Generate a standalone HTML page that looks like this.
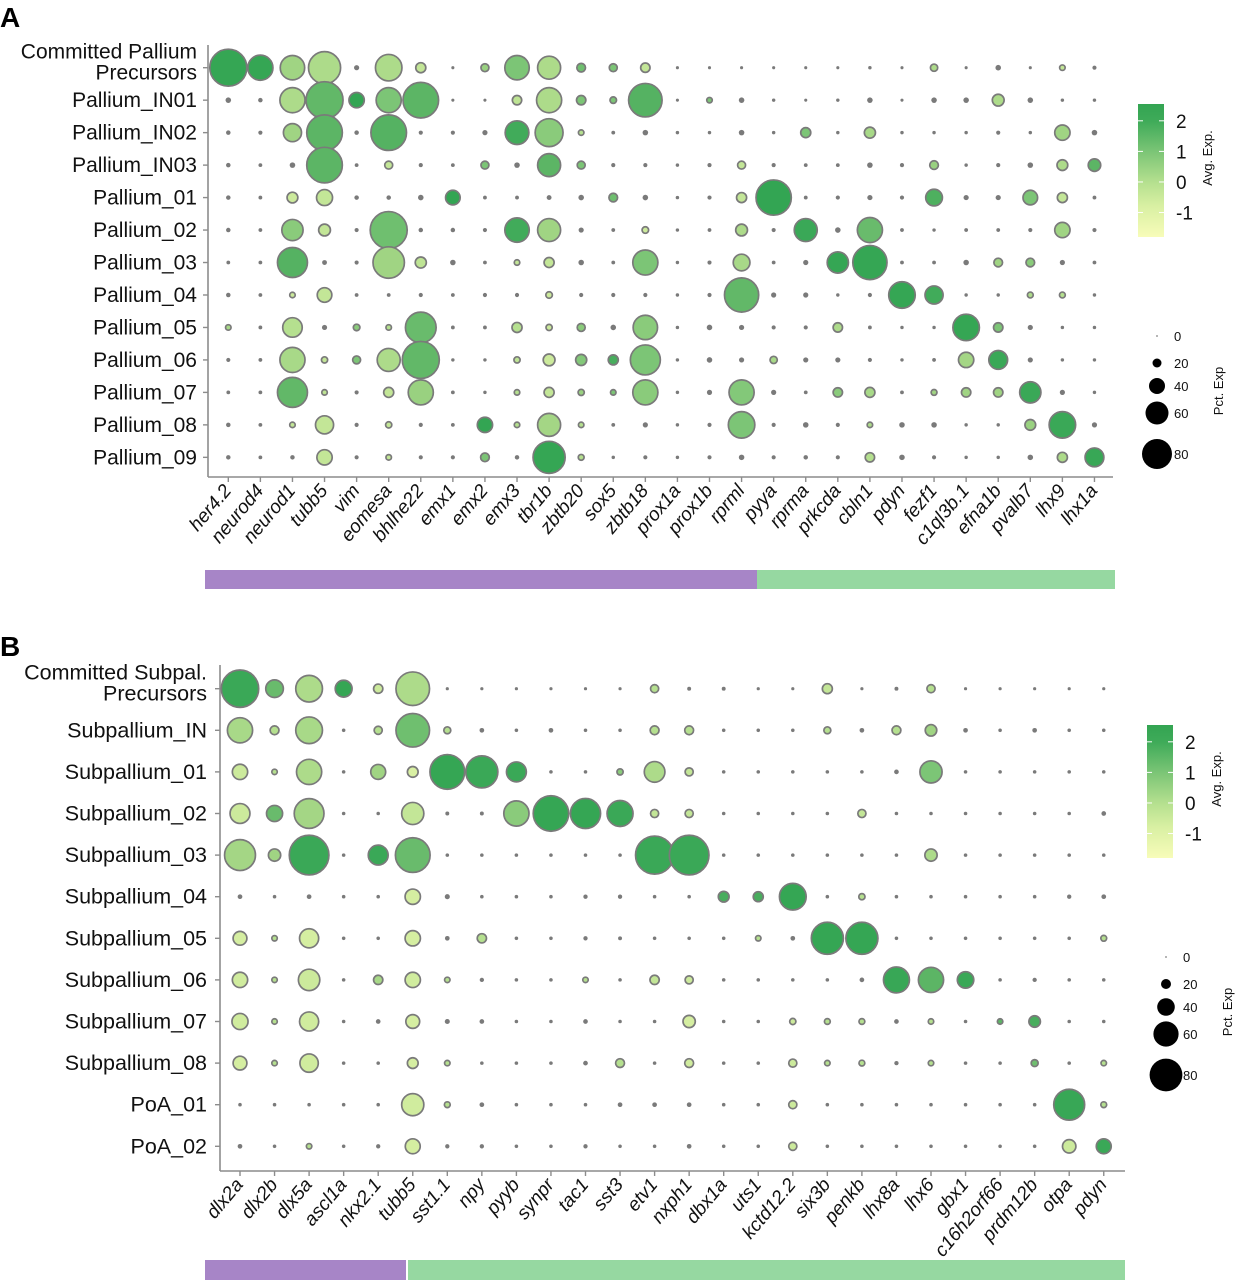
<!DOCTYPE html>
<html><head><meta charset="utf-8">
<style>
html,body{margin:0;padding:0;background:#fff;}
svg{display:block;font-family:"Liberation Sans",Arial,sans-serif;}
</style></head>
<body>
<svg id="fig" width="1236" height="1280" viewBox="0 0 1236 1280" xmlns="http://www.w3.org/2000/svg">
<defs>
<linearGradient id="cbar" x1="0" y1="1" x2="0" y2="0">
<stop offset="0" stop-color="#f7fcb9"/>
<stop offset="0.23" stop-color="#d9f0a3"/>
<stop offset="0.41" stop-color="#b5e08f"/>
<stop offset="0.64" stop-color="#7cc576"/>
<stop offset="0.87" stop-color="#3fab59"/>
<stop offset="1" stop-color="#33a452"/>
</linearGradient>
</defs>
<text x="0" y="27" font-size="28" font-weight="bold">A</text>
<text x="0" y="656" font-size="28" font-weight="bold">B</text>
<g id="gA"></g>
<g id="gB"></g>
</svg>
<script>
const colsA = ["her4.2","neurod4","neurod1","tubb5","vim","eomesa","bhlhe22","emx1","emx2","emx3","tbr1b","zbtb20","sox5","zbtb18","prox1a","prox1b","rprml","pyya","rprma","prkcda","cbln1","pdyn","fezf1","c1ql3b.1","efna1b","pvalb7","lhx9","lhx1a"];
const rowsA = [["Committed Pallium","Precursors"],["Pallium_IN01"],["Pallium_IN02"],["Pallium_IN03"],["Pallium_01"],["Pallium_02"],["Pallium_03"],["Pallium_04"],["Pallium_05"],["Pallium_06"],["Pallium_07"],["Pallium_08"],["Pallium_09"]];
const pctA = [
[100,66,64,86,8,70,23,2,17,64,60,19,17,21,2,2,2,2,2,2,3,2,15,2,9,2,10,5],
[9,6,66,100,38,66,96,2,2,21,66,21,13,90,2,10,9,3,2,3,9,2,9,9,28,9,3,3],
[6,5,46,96,6,96,5,5,8,62,74,10,4,9,3,3,9,3,23,3,26,3,3,3,5,3,38,9],
[6,4,9,96,4,17,5,4,17,9,60,17,5,5,3,5,17,5,4,4,9,5,19,3,5,9,25,30],
[6,4,25,40,6,6,9,36,4,4,7,9,19,9,3,5,23,95,4,5,8,5,42,8,8,36,23,4],
[6,4,55,28,5,100,6,6,5,64,60,8,4,13,3,4,28,5,60,9,66,4,3,4,4,5,38,5],
[4,4,80,7,5,84,26,9,4,10,23,9,4,66,3,5,42,4,8,55,92,4,4,9,19,19,8,4],
[6,4,10,36,4,4,5,4,5,5,13,5,5,5,3,5,92,8,8,3,5,70,46,3,3,11,11,3],
[10,4,50,8,13,10,82,4,4,23,12,17,9,64,3,9,8,5,5,21,4,3,3,70,21,8,3,3],
[5,4,66,12,17,60,100,3,3,12,28,26,23,80,3,9,8,15,8,8,5,3,4,38,48,8,3,3],
[4,4,80,10,5,23,66,4,3,10,23,12,10,66,3,8,66,8,4,21,23,4,11,21,21,55,8,3],
[6,4,10,46,5,12,5,4,38,10,60,10,4,8,3,5,70,5,9,5,10,9,9,3,3,25,70,8],
[6,4,6,38,5,10,5,5,19,6,86,11,3,5,3,5,9,5,6,5,21,9,5,3,3,9,23,48]];
const expA = [
[2.2,2.2,0.5,0.2,0,0.2,-0.3,0,0.6,1.0,0.2,1.2,1.0,-0.3,0,0,0,0,0,0,0,0,0.2,0,0,0,-0.3,0],
[0,0,0.2,1.4,2.3,1.0,1.5,0,0,-0.2,0.2,1.0,1.0,1.6,0,1.0,0,0,0,0,0,0,0,0,0.2,0,0,0],
[0,0,0.5,1.5,0,1.6,0,0,0,1.9,0.8,0,0,0,0,0,0,0,1.0,0,0.3,0,0,0,0,0,0.5,0],
[0,0,0,1.5,0,-0.3,0,0,1.0,0,1.5,1.0,0,0,0,0,-0.3,0,0,0,0,0,0.6,0,0,0,0.2,1.5],
[0,0,-0.5,-0.3,0,0,0,2.3,0,0,0,0,1.2,0,0,0,-0.3,2.3,0,0,0,0,1.7,0,0,1.0,-0.3,0],
[0,0,0.8,-0.3,0,1.2,0,0,0,1.9,0.5,0,0,-0.5,0,0,0.2,0,2.0,0,1.3,0,0,0,0,0,0.5,0],
[0,0,1.6,0,0,0.5,-0.2,0.7,0,-0.3,-0.3,0,0,1.0,0,0,0.3,0,0,2.2,2.2,0,0,0,0.5,0.8,0,0],
[0,0,-0.5,-0.3,0,0,0,0,0,0,-0.5,0,0,0,0,0,1.4,0,0,0,0,2.2,1.9,0,0,0.2,0,0],
[0.3,0,0,0,0.8,0,1.3,0,0,0,-0.5,0.8,1.0,0.8,0,1.0,0,0,0,0.2,0,0,0,2.2,1.0,0,0,0],
[0,0,0.3,-0.3,1.0,0.2,1.4,0,0,-0.2,-0.5,0.9,1.8,1.0,0,1.0,0,0.3,0,0,0,0,0,0.4,2.0,0,0,0],
[0,0,1.4,-0.2,0,-0.3,0.6,0,0,0,-0.3,0.6,1.0,0.8,0,0,0.9,0,0,0.8,0.3,0,0.5,0.5,0.5,2.0,0,0],
[0,0,-0.3,-0.3,0,-0.3,0,0,2.3,0,0.4,0,0,0,0,0,1.0,0,0,0,0.2,0,0,0,0,0.6,2.0,0],
[0,0,0,-0.3,0,-0.3,0,0,1.0,0,2.2,0,0,0,0,0,0,0,0,0,0,0,0,0,0,0,0.2,2.1]];

const colsB = ["dlx2a","dlx2b","dlx5a","ascl1a","nkx2.1","tubb5","sst1.1","npy","pyyb","synpr","tac1","sst3","etv1","nxph1","dbx1a","uts1","kctd12.2","six3b","penkb","lhx8a","lhx6","gbx1","c16h2orf66","prdm12b","otpa","pdyn"];
const rowsB = [["Committed Subpal.","Precursors"],["Subpallium_IN"],["Subpallium_01"],["Subpallium_02"],["Subpallium_03"],["Subpallium_04"],["Subpallium_05"],["Subpallium_06"],["Subpallium_07"],["Subpallium_08"],["PoA_01"],["PoA_02"]];
const pctB = [
[92,40,64,38,18,82,1,1,1,1,1,1,15,3,3,1,1,20,1,3,15,1,1,1,1,1],
[60,17,64,2,15,82,12,5,2,5,2,2,17,17,2,2,2,12,5,17,24,5,2,5,2,2],
[34,8,60,2,33,22,85,78,46,2,2,10,48,15,2,2,2,2,2,5,52,2,2,2,2,2],
[46,36,72,2,2,52,3,3,60,87,73,62,15,15,2,2,2,2,15,2,2,2,2,2,2,5],
[75,26,98,2,46,85,2,2,2,2,2,2,94,98,2,2,2,2,2,2,26,2,2,2,2,2],
[5,2,5,2,2,34,6,2,2,2,4,4,2,2,22,20,64,2,10,2,2,2,2,2,4,5],
[30,8,44,2,2,34,5,18,2,2,4,3,2,2,2,8,5,78,78,2,2,2,2,2,2,9],
[34,8,50,2,18,34,8,4,2,2,8,2,18,15,2,2,2,2,5,62,60,37,2,4,2,2],
[36,8,44,2,5,30,6,5,2,2,5,2,2,26,2,2,10,9,9,5,8,2,8,24,2,2],
[30,8,42,2,2,22,8,2,2,2,5,17,2,17,2,2,15,8,9,4,8,2,2,12,2,8],
[2,2,2,2,2,52,9,5,2,2,2,5,5,5,2,2,15,2,2,2,2,2,2,2,75,9],
[5,2,8,2,4,33,4,4,2,2,4,2,2,5,2,2,15,2,2,2,2,2,2,2,29,33]];
const expB = [
[2.0,1.3,0.2,2.2,-0.5,0.2,0,0,0,0,0,0,0,0,0,0,0,-0.3,0,0,0,0,0,0,0,0],
[0.3,0,0.3,0,0,1.2,0,0,0,0,0,0,0,0,0,0,0,0,0,0,0.5,0,0,0,0,0],
[-0.5,0,0.2,0,0.5,-0.8,2.2,2.0,2.0,0,0,0.8,0.2,-0.3,0,0,0,0,0,0,1.0,0,0,0,0,0],
[-0.5,1.3,0.4,0,0,-0.3,0,0,0.8,2.2,2.2,2.0,-0.3,-0.3,0,0,0,0,-0.3,0,0,0,0,0,0,0],
[0.4,0.5,2.0,0,2.0,1.3,0,0,0,0,0,0,2.0,2.0,0,0,0,0,0,0,0.2,0,0,0,0,0],
[0,0,0,0,0,-0.7,0,0,0,0,0,0,0,0,1.8,1.8,2.2,0,0,0,0,0,0,0,0,0],
[-0.7,0,-0.7,0,0,-0.7,0,0,0,0,0,0,0,0,0,0,0,2.2,2.2,0,0,0,0,0,0,0],
[-0.6,0,-0.5,0,0.3,-0.6,0,0,0,0,0,0,-0.3,-0.5,0,0,0,0,0,2.1,1.5,2.0,0,0,0,0],
[-0.6,0,-0.6,0,0,-0.7,0,0,0,0,0,0,0,-0.7,0,0,-0.5,0,0,0,0,0,1.5,1.8,0,0],
[-0.7,0,-0.6,0,0,-0.7,0,0,0,0,0,0,0,-0.6,0,0,-0.5,0,0,1.2,0,0,0,1.2,0,0],
[0,0,0,0,0,-0.6,0,0,0,0,0,0,0,0,0,0,-0.5,0,0,0,0,0,0,0,2.1,0],
[0,0,0,0,0,-0.7,0,0,0,0,0,0,0,0,0,0,-0.5,0,0,0,0,0,0,0,-0.5,2.0]];

const colorTicks = [2,1,0,-1];
const sizeTicks = [0,20,40,60,80];

const NS = "http://www.w3.org/2000/svg";
function mk(tag, attrs, parent){
  const e = document.createElementNS(NS, tag);
  for (const k in attrs) e.setAttribute(k, attrs[k]);
  parent.appendChild(e);
  return e;
}
const stops = [[-1.8,[247,252,185]],[-0.8,[217,240,163]],[0,[181,224,143]],[0.5,[160,212,131]],[1.0,[124,197,118]],[1.5,[92,181,101]],[2.0,[58,168,87]],[2.6,[44,162,78]]];
function col(v){
  if (v<=stops[0][0]) v=stops[0][0];
  if (v>=stops[stops.length-1][0]) v=stops[stops.length-1][0];
  for (let i=0;i<stops.length-1;i++){
    const a=stops[i], b=stops[i+1];
    if (v>=a[0] && v<=b[0]){
      const t=(v-a[0])/(b[0]-a[0]);
      const c=a[1].map((x,k)=>Math.round(x+(b[1][k]-x)*t));
      return "rgb("+c.join(",")+")";
    }
  }
  return "rgb(181,224,143)";
}

function panel(g, cfg){
  const {cols, rows, pct, exp, x0, dx, y0, dy, rA, rB, axX, axTop, axY, axRight, labX, labFs, bar, leg} = cfg;
  const X = i => x0 + dx*i;
  const Y = j => y0 + dy*j;
  const R = p => rA + rB*p;
  const ya = mk("line",{x1:axX,y1:axTop,x2:axX,y2:axY,stroke:"#8c8c8c","stroke-width":1.6},g);
  
  
  const xa = mk("line",{x1:axX,y1:axY,x2:axRight,y2:axY,stroke:"#8c8c8c","stroke-width":1.6},g);
  
  
  rows.forEach((lab,j)=>{
    const t = mk("line",{x1:axX-5,y1:Y(j),x2:axX,y2:Y(j),stroke:"#8c8c8c","stroke-width":1.4},g);
    
    
    const tx = mk("text",{x:labX,"text-anchor":"end","font-size":labFs,fill:"#111"},g);
    
    
    if (lab.length===2){
      tx.setAttribute("y", Y(j)-9);
      const s1 = mk("tspan",{x:labX},tx); s1.textContent=lab[0];
      const s2 = mk("tspan",{x:labX,dy:21},tx); s2.textContent=lab[1];
    } else {
      tx.setAttribute("y", Y(j)+7);
      tx.textContent = lab[0];
    }
  });
  cols.forEach((c,i)=>{
    const t = mk("line",{x1:X(i),y1:axY,x2:X(i),y2:axY+5,stroke:"#8c8c8c","stroke-width":1.4},g);
    
    
    const ax = X(i)+4, ay = axY+14;
    const tx = mk("text",{x:ax,y:ay,"text-anchor":"end","font-size":19,"font-style":"italic",fill:"#111",transform:"rotate(-50 "+ax+" "+ay+")"},g);
    
    
    tx.textContent = c;
  });
  for (let j=0;j<rows.length;j++){
    for (let i=0;i<cols.length;i++){
      const r = R(pct[j][i]);
      let c;
      if (r < 2.6){
        c = mk("circle",{cx:X(i),cy:Y(j),r:r+0.2,fill:"#7a7a7a"},g);
      } else {
        c = mk("circle",{cx:X(i),cy:Y(j),r:r,fill:col(exp[j][i]),stroke:"#7a7a7a","stroke-width":1.7},g);
      }
      
      
    }
  }
  const b1 = mk("rect",{x:bar.x0,y:bar.y,width:bar.xm-bar.x0,height:bar.h,fill:"#a785c7"},g);
  
  
  const b2 = mk("rect",{x:bar.xm2,y:bar.y,width:bar.x1-bar.xm2,height:bar.h,fill:"#96d8a1"},g);
  
  
  const cbTop = leg.cy, cbBot = leg.cy+133, vTop=2.55, vBot=-1.8;
  const CY = v => cbTop + (vTop - v)/(vTop - vBot)*(cbBot-cbTop);
  const cb = mk("rect",{x:leg.cx,y:cbTop,width:26,height:cbBot-cbTop,fill:"url(#cbar)"},g);
  
  
  colorTicks.forEach(v=>{
    const l1 = mk("line",{x1:leg.cx,y1:CY(v),x2:leg.cx+5,y2:CY(v),stroke:"#fff","stroke-width":1},g);
    
    
    const l2 = mk("line",{x1:leg.cx+21,y1:CY(v),x2:leg.cx+26,y2:CY(v),stroke:"#fff","stroke-width":1},g);
    
    
    const t = mk("text",{x:leg.cx+38,y:CY(v)+7,"font-size":19,fill:"#111"},g);
    
    
    t.textContent = v;
  });
  const at = mk("text",{x:0,y:0,"font-size":13,"text-anchor":"middle",fill:"#111",transform:"translate("+(leg.cx+74)+" "+(cbTop+54)+") rotate(-90)"},g);
  
  
  at.textContent = "Avg. Exp.";
  const sy = [0,27,50,77,118];
  sizeTicks.forEach((p,k)=>{
    const yy = leg.sy + sy[k];
    const c = mk("circle",{cx:leg.cx+19,cy:yy,r:Math.max(0.6,R(p)-(p===0?rA-0.6:0)),fill:"#000"},g);
    
    
    const t = mk("text",{x:leg.cx+36,y:yy+5,"font-size":13,fill:"#111"},g);
    
    
    t.textContent = p;
  });
  const st = mk("text",{x:0,y:0,"font-size":13,"text-anchor":"middle",fill:"#111",transform:"translate("+(leg.cx+85)+" "+(leg.sy+55)+") rotate(-90)"},g);
  
  
  st.textContent = "Pct. Exp";
}

panel(document.getElementById("gA"), {cols:colsA, rows:rowsA, pct:pctA, exp:expA,
  x0:228.3, dx:32.08, y0:67.7, dy:32.47, rA:1, rB:0.175,
  axX:208, axTop:45, axY:477, axRight:1113, labX:197, labFs:21,
  bar:{x0:205,xm:757,xm2:757,x1:1115,y:570,h:19},
  leg:{cx:1138, cy:104, sy:336}});
panel(document.getElementById("gB"), {cols:colsB, rows:rowsB, pct:pctB, exp:expB,
  x0:240, dx:34.55, y0:688.7, dy:41.6, rA:1.2, rB:0.19,
  axX:220, axTop:665, axY:1171, axRight:1125, labX:207, labFs:21.5,
  bar:{x0:205,xm:406,xm2:408,x1:1125,y:1260,h:20},
  leg:{cx:1147, cy:725, sy:957}});
</script>
</body></html>
